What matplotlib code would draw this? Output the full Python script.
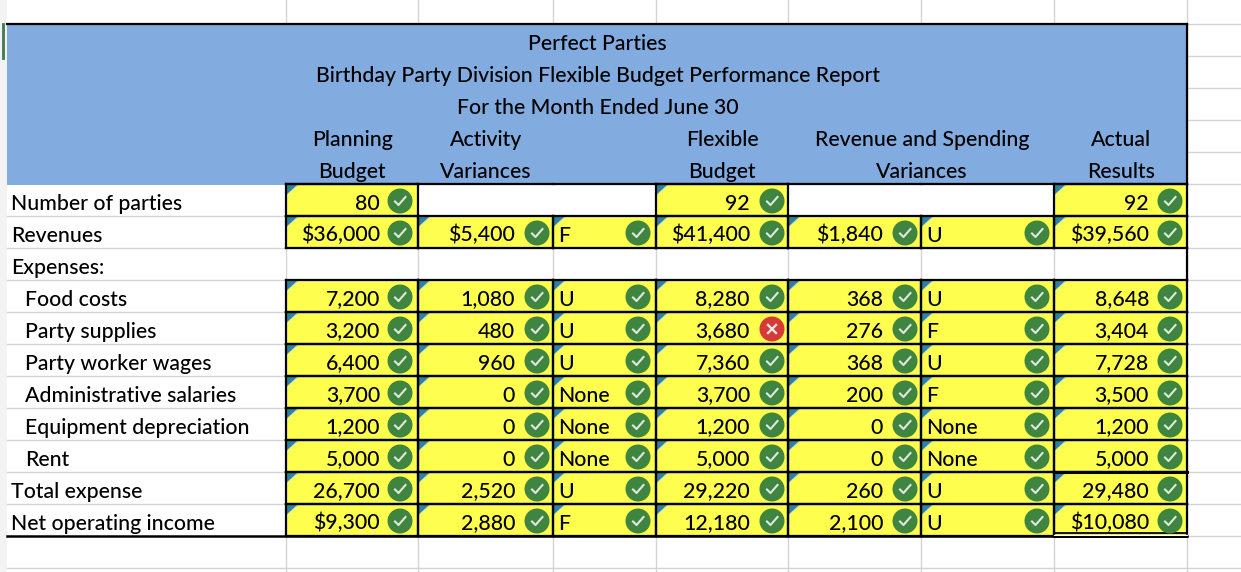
import matplotlib
matplotlib.use("Agg")
import matplotlib.pyplot as plt
from matplotlib.patches import Rectangle, Circle, Polygon

plt.rcParams['font.family'] = ['Lato', 'DejaVu Sans']
plt.rcParams['font.weight'] = 500

title_lines = ["Perfect Parties", "Birthday Party Division Flexible Budget Performance Report",
               "For the Month Ended June 30"]
row_labels = ["Number of parties", "Revenues", "Expenses:", "Food costs", "Party supplies",
              "Party worker wages", "Administrative salaries", "Equipment depreciation",
              "Rent", "Total expense", "Net operating income"]
indented = [3, 4, 5, 6, 7, 8]
planning = ["80", "$36,000", None, "7,200", "3,200", "6,400", "3,700", "1,200", "5,000", "26,700", "$9,300"]
activity = [None, "$5,400", None, "1,080", "480", "960", "0", "0", "0", "2,520", "2,880"]
activity_fu = [None, "F", None, "U", "U", "U", "None", "None", "None", "U", "F"]
flexible = ["92", "$41,400", None, "8,280", "3,680", "7,360", "3,700", "1,200", "5,000", "29,220", "12,180"]
revspend = [None, "$1,840", None, "368", "276", "368", "200", "0", "0", "260", "2,100"]
revspend_fu = [None, "U", None, "U", "F", "U", "F", "None", "None", "U", "U"]
actual = ["92", "$39,560", None, "8,648", "3,404", "7,728", "3,500", "1,200", "5,000", "29,480", "$10,080"]
wrong_cells = {(3, 4)}

col_edges = [286, 418, 553, 656, 788, 921, 1054, 1187]
columns = [planning, activity, activity_fu, flexible, revspend, revspend_fu, actual]
is_letter = [False, False, True, False, False, True, False]
badge_off = [18, 16, 18, 16, 16, 17, 17]
row_h = 32
header_top = 24
body_top = 184
base = 25.5
nrows = len(row_labels)
row_y = [body_top + i * row_h for i in range(nrows + 1)]

YELLOW = "#fefe4f"
BLUE = "#82abe0"
GRID = "#d4d4d4"
FS = 15.3

fig = plt.figure(figsize=(12.41, 5.72), dpi=100)
ax = fig.add_axes([0, 0, 1, 1])
ax.set_xlim(0, 1241)
ax.set_ylim(572, 0)
ax.axis("off")

# sheet gridlines
for x in col_edges:
    ax.plot([x, x], [0, 572], color=GRID, lw=1, zorder=1)
for y in [24 + row_h * i for i in range(18)]:
    ax.plot([0, 1241], [y, y], color=GRID, lw=1, zorder=1)
ax.add_patch(Rectangle((0, 0), 7, 572, fc="#f3f3f3", ec="none", zorder=1.5))
ax.plot([2.5, 2.5], [24, 58], color="#3f7a4d", lw=2, zorder=2)

# header band
ax.add_patch(Rectangle((7, 24), 1180, 161, fc=BLUE, ec="none", zorder=2))
ax.plot([7, 1187], [24, 24], color="k", lw=1.6, zorder=5)
ax.plot([1187, 1187], [24, 184], color="k", lw=1.6, zorder=5)
ax.add_patch(Rectangle((7, 185), 279, nrows * row_h - 1, fc="white", ec="none", zorder=1.6))
for y in row_y[1:-1]:
    ax.plot([7, 286], [y, y], color=GRID, lw=1, zorder=1.7)

for i, line in enumerate(title_lines):
    ax.text(597.5, header_top + row_h * i + base, line, ha="center", va="baseline", fontsize=FS, zorder=6)
header_cells = [(352, ["Planning", "Budget"]), (486, ["Activity", "Variances"]),
                (722, ["Flexible", "Budget"]), (922, ["Revenue and Spending", "Variances"]),
                (1121, ["Actual", "Results"])]
for cx, lines in header_cells:
    for i, line in enumerate(lines):
        ax.text(cx, header_top + row_h * (3 + i) + base, line, ha="center", va="baseline", fontsize=FS, zorder=6)

for r, label in enumerate(row_labels):
    x = 25 if r in indented else 11
    ax.text(x, row_y[r] + base, label, ha="left", va="baseline", fontsize=FS, zorder=6)

# cells
for c, values in enumerate(columns):
    left, right = col_edges[c], col_edges[c + 1]
    for r, val in enumerate(values):
        top = row_y[r]
        if val is None:
            if r == 0:
                ax.add_patch(Rectangle((left, top), right - left, row_h, fc="white", ec="none", zorder=2))
            continue
        ax.add_patch(Rectangle((left, top), right - left, row_h, fc=YELLOW, ec="none", zorder=2))
        ax.add_patch(Polygon([(left, top), (left + 14, top), (left, top + 12)], fc="#c9dcc0", ec="none", zorder=3))
        ax.add_patch(Polygon([(left, top), (left + 12, top), (left, top + 11)], fc="#2f7f9e", ec="none", zorder=3.1))
        if is_letter[c]:
            ax.text(left + 5, top + base, val, ha="left", va="baseline", fontsize=FS, zorder=6)
        else:
            ax.text(right - 38, top + base, val, ha="right", va="baseline", fontsize=FS, zorder=6)
        cx, cy = right - badge_off[c], top + row_h / 2 + 1
        bad = (c, r) in wrong_cells
        ax.add_patch(Circle((cx, cy), 12.5, fc="#d63a36" if bad else "#40853f", ec="none", zorder=7))
        if bad:
            ax.plot([cx - 4, cx + 4], [cy - 4, cy + 4], color="#f4e4e4", lw=1.7, zorder=8)
            ax.plot([cx - 4, cx + 4], [cy + 4, cy - 4], color="#f4e4e4", lw=1.7, zorder=8)
        else:
            ax.plot([cx - 5, cx - 1.5, cx + 5.5], [cy + .5, cy + 4, cy - 4], color="#dfe9df", lw=1.5, zorder=8)

# black borders
B = dict(color="k", lw=1.6, zorder=5, solid_capstyle="projecting")
for r in list(range(0, 2)) + list(range(3, nrows)):
    for c in range(7):
        if columns[c][r] is None:
            continue
        x0, x1 = col_edges[c], col_edges[c + 1]
        y0, y1 = row_y[r], row_y[r + 1]
        ax.plot([x0, x1], [y0, y0], **B)
        ax.plot([x0, x1], [y1, y1], **B)
        ax.plot([x0, x0], [y0, y1], **B)
        ax.plot([x1, x1], [y0, y1], **B)
for c in range(7):
    ax.plot([col_edges[c], col_edges[c + 1]], [row_y[0], row_y[0]], **B)
ax.plot([1187, 1187], [row_y[2], row_y[3]], **B)
ax.plot([7, 1187], [row_y[-1], row_y[-1]], color="k", lw=1.8, zorder=5)
ax.plot([1054, 1187], [row_y[9], row_y[9]], color="k", lw=2.2, zorder=5)
ax.plot([1054, 1187], [row_y[-1] - 3, row_y[-1] - 3], color="k", lw=1.3, zorder=5.2)
ax.plot([1054, 1187], [row_y[-1] - 1.2, row_y[-1] - 1.2], color="white", lw=1, zorder=5.1)
ax.plot([1054, 1187], [row_y[-1] + .8, row_y[-1] + .8], color="k", lw=1.3, zorder=5.2)

fig.savefig("out.png", dpi=100)
